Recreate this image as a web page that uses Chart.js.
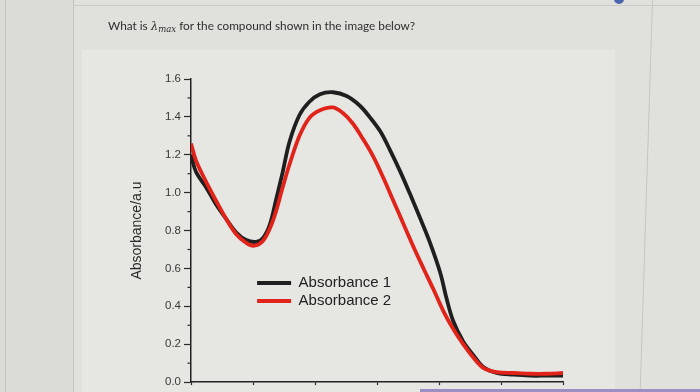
<!DOCTYPE html>
<html>
<head>
<meta charset="utf-8">
<script src="https://cdn.jsdelivr.net/npm/chart.js@4.4.1/dist/chart.umd.min.js"></script>
<style>
  html, body { margin: 0; padding: 0; }
  body { width: 700px; height: 392px; overflow: hidden; position: relative; background: #e0e0dd; font-family: Lato, "Open Sans", sans-serif; }
  .deco { position: absolute; }
  #stage { position: absolute; left: 0; top: 0; width: 700px; height: 392px; }
  #q { position: absolute; left: 108px; top: 18px; font-size: 11.8px; color: #2e2e2e; white-space: nowrap; }
  #q .lam { font-family: "DejaVu Serif", serif; font-style: italic; }
  #q sub { font-size: 8.5px; font-style: italic; font-family: "DejaVu Serif", serif; vertical-align: -2px; }
</style>
</head>
<body>
<div class="deco" style="left:0;top:0;width:73px;height:392px;background:#dbdbd8;"></div>
<div class="deco" style="left:5px;top:0;width:1px;height:392px;background:#c2c2bf;"></div>
<div class="deco" style="left:73px;top:0;width:1px;height:392px;background:#c4c4c1;"></div>
<div class="deco" style="left:74px;top:5px;width:626px;height:1px;background:#cacac7;"></div>
<div class="deco" style="left:82px;top:50px;width:533px;height:342px;background:#e6e6e3;"></div>
<div class="deco" style="left:652px;top:0;width:1px;height:400px;background:#c4c4c1;transform:rotate(1.8deg);transform-origin:0 0;"></div>
<div class="deco" style="left:614px;top:-6px;width:10px;height:10px;border-radius:50%;background:#4a63b0;"></div>
<div class="deco" style="left:420px;top:389px;width:280px;height:3px;background:#9b8fc4;"></div>
<div id="stage"><canvas id="c" width="700" height="392"></canvas></div>
<div id="q">What is <span class="lam">λ</span><sub>max</sub> for the compound shown in the image below?</div>
<script>
// Series (x in axis units 0–60, y in absorbance)
const xBlack = [0, 0.8, 2.4, 4.0, 5.7, 7.3, 8.9, 10.5, 11.6, 12.7, 13.7, 14.8, 15.9, 17.5, 19.1, 20.8, 22.9, 25.1, 27.2, 28.8, 30.5, 32.1, 33.7, 35.3, 36.9, 38.5, 40.2, 41.2, 42.3, 43.9, 45.6, 47.2, 49.3, 52.0, 54.7, 57.4, 60];
const yBlack = [1.20, 1.11, 1.03, 0.94, 0.86, 0.79, 0.75, 0.74, 0.76, 0.83, 0.96, 1.11, 1.27, 1.41, 1.48, 1.52, 1.53, 1.51, 1.46, 1.40, 1.325, 1.225, 1.115, 0.995, 0.87, 0.74, 0.577, 0.444, 0.321, 0.215, 0.14, 0.078, 0.048, 0.039, 0.034, 0.034, 0.034];
const xRed = [0, 0.8, 2.4, 4.0, 5.7, 7.3, 8.9, 10.2, 11.6, 12.7, 13.7, 14.8, 15.9, 17.5, 19.1, 20.8, 22.9, 24.5, 26.1, 27.8, 29.4, 31.0, 32.6, 34.2, 35.8, 37.5, 39.1, 40.7, 42.3, 43.9, 45.6, 47.2, 49.3, 52.0, 54.7, 57.4, 60];
const yRed = [1.26, 1.17, 1.06, 0.96, 0.86, 0.78, 0.735, 0.72, 0.745, 0.81, 0.90, 1.03, 1.15, 1.30, 1.395, 1.435, 1.45, 1.42, 1.365, 1.28, 1.19, 1.08, 0.96, 0.84, 0.72, 0.60, 0.49, 0.375, 0.28, 0.20, 0.127, 0.074, 0.053, 0.048, 0.044, 0.044, 0.048];
const seriesNames = ["Absorbance 1", "Absorbance 2"];
const yMinorTicks = [0.1, 0.3, 0.5, 0.7, 0.9, 1.1, 1.3, 1.5];
const yAxisTitle = "Absorbance/a.u";

const black = '#1f1f1f';
const red = '#e2231a';

const toPts = (xs, ys) => xs.map((x, i) => ({ x: x, y: ys[i] }));

const minorTicks = {
  id: 'minorTicks',
  afterDraw(chart) {
    const s = chart.scales.y;
    const ctx = chart.ctx;
    ctx.save();
    ctx.strokeStyle = '#2a2a2a';
    ctx.lineWidth = 1.2;
    yMinorTicks.forEach(v => {
      const py = s.getPixelForValue(v);
      ctx.beginPath();
      ctx.moveTo(s.right - 3.5, py);
      ctx.lineTo(s.right, py);
      ctx.stroke();
    });
    ctx.restore();
  }
};

const placeLegend = {
  id: 'placeLegend',
  afterLayout(chart) {
    const lg = chart.legend;
    if (!lg) return;
    const ca = chart.chartArea;
    const ys = chart.scales.y;
    const left = ca.left + (ca.right - ca.left) * 0.175 - 2;
    const top = ys.getPixelForValue(0.6) + 4;
    lg.left = left; lg.right = left + 160;
    lg.top = top; lg.bottom = top + 80;
    lg.width = 160; lg.height = 80;
  }
};

new Chart(document.getElementById('c'), {
  type: 'line',
  data: {
    datasets: [
      { label: seriesNames[1], data: toPts(xRed, yRed), borderColor: red, backgroundColor: red, borderWidth: 3.8, pointRadius: 0, tension: 0.35, order: 0 },
      { label: seriesNames[0], data: toPts(xBlack, yBlack), borderColor: black, backgroundColor: black, borderWidth: 3.8, pointRadius: 0, tension: 0.35, order: 1 }
    ]
  },
  options: {
    responsive: false,
    animation: false,
    layout: { padding: { left: 120, top: 79, right: 137, bottom: 0 } },
    plugins: {
      tooltip: { enabled: false },
      legend: {
        position: 'chartArea',
        align: 'start',
        reverse: true,
        labels: {
          font: { family: 'Liberation Sans, Arial, sans-serif', size: 15 },
          color: '#222',
          boxWidth: 34,
          boxHeight: 4,
          padding: 3,
          generateLabels(chart) {
            return chart._getSortedDatasetMetas().map(m => {
              const ds = chart.data.datasets[m.index];
              return { text: ds.label, fillStyle: ds.borderColor, strokeStyle: ds.borderColor, lineWidth: 0, hidden: false, datasetIndex: m.index, fontColor: '#222' };
            });
          }
        }
      }
    },
    scales: {
      x: {
        type: 'linear',
        min: 0, max: 60,
        ticks: { display: false, stepSize: 10 },
        grid: { drawOnChartArea: false, drawTicks: true, tickLength: 3, tickColor: '#2a2a2a', tickWidth: 1.2 },
        border: { display: true, color: '#222', width: 1.5 },
        afterFit(s) { s.height = 9; }
      },
      y: {
        min: 0, max: 1.6,
        ticks: {
          stepSize: 0.2,
          padding: 3,
          color: '#3a3a3a',
          font: { family: 'Liberation Sans, Arial, sans-serif', size: 11.5 },
          callback: v => v.toFixed(1)
        },
        grid: { drawOnChartArea: false, drawTicks: true, tickLength: 7, tickColor: '#2a2a2a', tickWidth: 1.2 },
        border: { display: true, color: '#222', width: 1.5 },
        title: {
          display: true,
          text: yAxisTitle,
          color: '#2a2a2a',
          font: { family: 'Liberation Sans, Arial, sans-serif', size: 14 },
          padding: { top: 8.6, bottom: 0 }
        },
        afterFit(s) { s.width = 71; }
      }
    }
  },
  plugins: [minorTicks, placeLegend]
});
</script>
</body>
</html>
